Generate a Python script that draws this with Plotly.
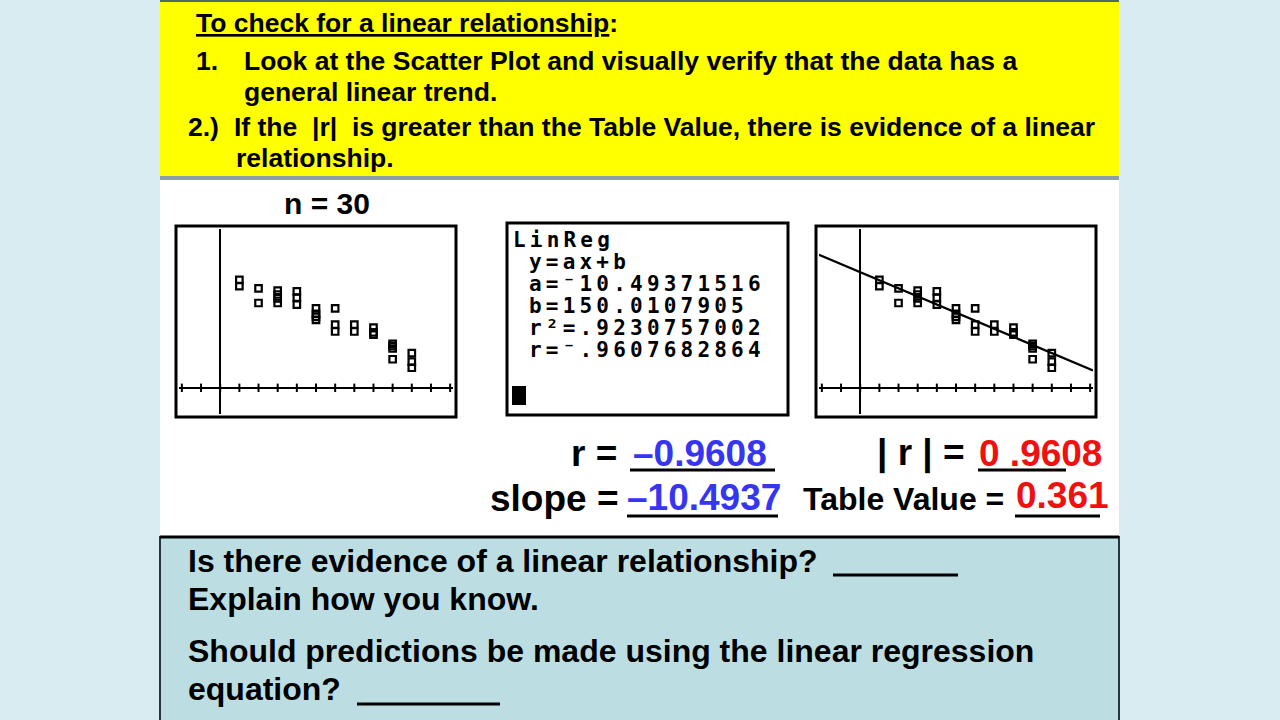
import plotly.graph_objects as go

# calculator data
x_vals = [1, 1, 2, 2, 3, 3, 3, 3, 4, 4, 4, 5, 5, 5, 5,
          6, 6, 6, 7, 7, 8, 8, 8, 9, 9, 9, 9, 10, 10, 10]
y_vals = [140, 132, 129, 110, 126, 121, 116, 110, 125, 117, 108, 103, 96, 92, 88,
          103, 82, 73, 82, 73, 78, 72, 69, 57, 54, 51, 37, 45, 34, 26]
slope_a = -10.49371516
intercept_b = 150.0107905
r_squared = 0.9230757002
r_value = -0.9607682864
window_x = [-2.15, 12.15]
window_y = [-34, 206]
tick_x = list(range(-2, 13))

W, H = 1280, 720


def fx(x):
    return x / W


def fy(y):
    return 1 - y / H


fig = go.Figure()

mark = dict(symbol='square-open', size=6.5, color='black', line=dict(width=2.2, color='black'))
tick = dict(symbol='line-ns-open', size=6, color='black', line=dict(width=2, color='black'))

# left screen: scatter plot only
fig.add_trace(go.Scatter(x=x_vals, y=y_vals, mode='markers', xaxis='x', yaxis='y', marker=mark))
fig.add_trace(go.Scatter(x=tick_x, y=[0] * len(tick_x), mode='markers', xaxis='x', yaxis='y',
                         marker=tick))

# right screen: scatter plot + regression line
line_y = [slope_a * v + intercept_b for v in window_x]
fig.add_trace(go.Scatter(x=window_x, y=line_y, mode='lines', xaxis='x2', yaxis='y2',
                         line=dict(color='black', width=2.2)))
fig.add_trace(go.Scatter(x=x_vals, y=y_vals, mode='markers', xaxis='x2', yaxis='y2', marker=mark))
fig.add_trace(go.Scatter(x=tick_x, y=[0] * len(tick_x), mode='markers', xaxis='x2', yaxis='y2',
                         marker=tick))

ax = dict(showgrid=False, zeroline=True, zerolinecolor='black', zerolinewidth=2,
          showticklabels=False, ticks='', showline=False, fixedrange=True)
fig.update_layout(
    xaxis=dict(ax, domain=[fx(179), fx(453)], range=window_x, anchor='y'),
    yaxis=dict(ax, domain=[fy(414), fy(229)], range=window_y, anchor='x'),
    xaxis2=dict(ax, domain=[fx(819), fx(1093)], range=window_x, anchor='y2'),
    yaxis2=dict(ax, domain=[fy(414), fy(229)], range=window_y, anchor='x2'),
)

shapes = []


def rect(x0, y0, x1, y1, fill=None, color=None, width=0, layer='below'):
    shapes.append(dict(type='rect', xref='paper', yref='paper',
                       x0=fx(x0), x1=fx(x1), y0=fy(y1), y1=fy(y0),
                       fillcolor=fill, layer=layer,
                       line=dict(color=color or 'rgba(0,0,0,0)', width=width)))


def hline(x0, x1, y, color='black', width=3):
    shapes.append(dict(type='line', xref='paper', yref='paper',
                       x0=fx(x0), x1=fx(x1), y0=fy(y), y1=fy(y),
                       line=dict(color=color, width=width)))


# slide background
rect(160, 0, 1119, 720, fill='white')
rect(160, 0, 1119, 177, fill='#ffff00')
hline(160, 1119, 178, color='#8d9ea6', width=4)
hline(160, 1119, 1, color='#56666e', width=2)
rect(160, 537, 1119, 722, fill='#bcdee2', color='#26363e', width=2)
hline(160, 1119, 537, color='black', width=3)

# calculator screen frames
rect(176, 226, 456, 417, color='black', width=3, layer='above')
rect(507, 223, 788, 415, fill='white', color='black', width=3)
rect(816, 226, 1096, 417, color='black', width=3, layer='above')
rect(512, 386, 526, 405, fill='black')

# answer underlines
hline(630, 775, 470)
hline(627, 778, 516)
hline(978, 1066, 470)
hline(1015, 1100, 516)
hline(833, 958, 575, width=3)
hline(357, 500, 704, width=3)

annotations = []


def text(s, x, y, size, anchor='left', color='black', family='Liberation Sans', weight='bold'):
    annotations.append(dict(text=s, x=fx(x), y=fy(y), xref='paper', yref='paper',
                            xanchor=anchor, yanchor='middle', showarrow=False,
                            font=dict(family=family, size=size, color=color, weight=weight)))


nb = '\u00a0'
# yellow box
ts = 26.5
text('<u>To check for a linear relationship</u>:', 194, 23, ts)
text('1.', 194, 61, ts)
text('Look at the Scatter Plot and visually verify that the data has a', 242, 61, ts)
text('general linear trend.', 242, 92, ts)
text('2.)', 186, 127, ts)
text('If the ' + nb + '|r|' + nb + ' is greater than the Table Value, there is evidence of a linear',
     232, 127, ts)
text('relationship.', 234, 158, ts)

text('n = 30', 327, 203, 30, anchor='center')

# LinReg screen
mono = 'DejaVu Sans Mono'
ls = '<span style="letter-spacing:4.2px">%s</span>'
calc_lines = [
    'y=ax+b',
    'a=\u207b' + str(abs(slope_a)),
    'b=' + str(intercept_b),
    'r\u00b2=' + str(r_squared)[1:],
    'r=\u207b' + str(abs(r_value))[1:],
]
text(ls % 'LinReg', 511, 240, 21, family=mono)
for i, s in enumerate(calc_lines):
    text(ls % s, 527, 262 + i * 22, 21, family=mono)

# results
rs = 37
text('r =', 619, 453, rs, anchor='right')
text('\u20130.9608', 631, 453, rs, color='#3535f2')
text('slope =', 621, 498, rs, anchor='right')
text('\u201310.4937', 625, 497, rs, color='#3535f2')
text('| r | =', 967, 453, rs, anchor='right')
text('0' + nb + '.9608', 977, 453, rs, color='#f01010')
text('Table Value =', 1006, 499, 32, anchor='right')
text('0.361', 1014, 495, rs, color='#f01010')

# bottom box
bs = 32
text('Is there evidence of a linear relationship?', 186, 561, bs)
text('Explain how you know.', 186, 599, bs)
text('Should predictions be made using the linear regression', 186, 651, bs)
text('equation?', 186, 689, bs)

fig.update_layout(
    width=W, height=H,
    margin=dict(l=0, r=0, t=0, b=0),
    paper_bgcolor='#d9ecf1',
    plot_bgcolor='white',
    showlegend=False,
    shapes=shapes,
    annotations=annotations,
)

fig.write_html("out.html", config={'displayModeBar': False},
               post_script="document.body.style.margin='0';")
